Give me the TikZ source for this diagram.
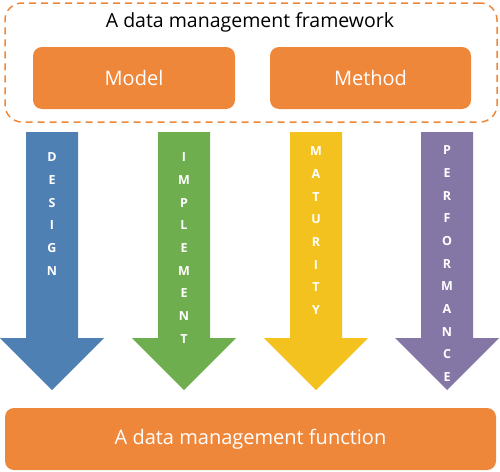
\documentclass[tikz,border=0pt]{standalone}
\usepackage{fontspec}
\setmainfont{Open Sans}
\definecolor{dorange}{HTML}{EF873B}
\definecolor{dblue}{HTML}{4F80B4}
\definecolor{dgreen}{HTML}{6FAE4F}
\definecolor{dyellow}{HTML}{F4C21E}
\definecolor{dpurple}{HTML}{8577A5}
\begin{document}
\begin{tikzpicture}[x=1pt,y=-1pt,
  box/.style={rounded corners=9pt,fill=dorange,text=white,font=\fontsize{20}{24}\selectfont,inner sep=0pt,minimum height=62pt},
  letters/.style={text=white,font=\fontsize{12.5}{22.7}\selectfont\bfseries,align=center,anchor=north,inner sep=0pt}]
\useasboundingbox (0,0) rectangle (500,471);
\node[draw=dorange,dashed,line width=1.5pt,dash pattern=on 7pt off 5pt,rounded corners=17pt,minimum width=492pt,minimum height=119pt] (frame) at (251,62.5) {};
\node[font=\fontsize{19.5}{24}\selectfont] (title) at (250,22) {A data management framework};
\node[box,minimum width=202pt] (model) at (134,78) {Model};
\node[box,minimum width=201pt] (method) at (370.5,78) {Method};
% arrows
\foreach \x/\c/\t/\w in {52/dblue/157/{D\\E\\S\\I\\G\\N},184/dgreen/157/{I\\M\\P\\L\\E\\M\\E\\N\\T},316/dyellow/151/{M\\A\\T\\U\\R\\I\\T\\Y},447/dpurple/150/{P\\E\\R\\F\\O\\R\\M\\A\\N\\C\\E}}
{
\fill[\c] (\x-26,132) -- (\x+26,132) -- (\x+26,338) -- (\x+52,338) -- (\x,390) -- (\x-52,338) -- (\x-26,338) -- cycle;
\node[letters] at (\x,\t-4.5) {\w};
}
\node[box,minimum width=491pt] (function) at (250.5,439) {A data management function};
\end{tikzpicture}
\end{document}
